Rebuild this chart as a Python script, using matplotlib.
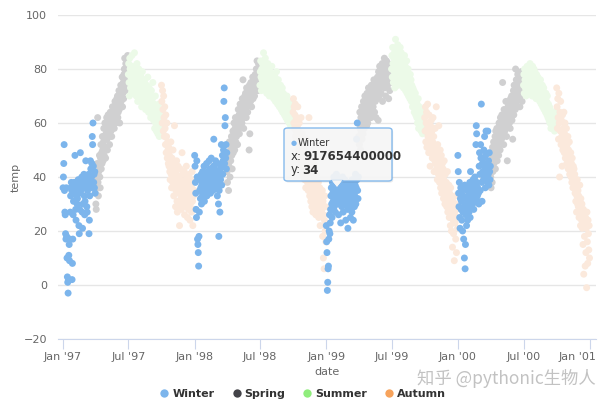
import pandas as pd
import matplotlib
matplotlib.use("Agg")
import matplotlib.pyplot as plt
import matplotlib.dates as mdates
import matplotlib.transforms as mtransforms
from matplotlib.patches import FancyBboxPatch, Polygon
from matplotlib.lines import Line2D

# daily temperatures, one list per season and year
winter_1997 = [36, 40, 45, 52, 35, 27, 26, 19, 17, 36,
               18, 10, 3, 1, -3, 2, 11, 15, 9, 17,
               27, 33, 36, 38, 35, 2, 8, 17, 26, 31,
               36, 38, 34, 48, 37, 28, 24, 33, 36, 30,
               32, 37, 39, 36, 22, 19, 28, 34, 49, 38,
               35, 37, 40, 27, 21, 30, 36, 39, 41, 33,
               26, 31, 38, 46, 40, 36, 29, 27, 35, 37,
               39, 41, 19, 24, 33, 38, 46, 43, 36, 40,
               45, 55, 52, 60, 44, 38, 41, 36, 42, 34]
spring_1997 = [34, 30, 28, 36, 40, 45, 62, 38, 33, 42,
               44, 48, 40, 36, 47, 52, 43, 49, 45, 55,
               50, 46, 53, 58, 48, 55, 60, 51, 47, 56,
               58, 62, 54, 50, 59, 63, 57, 61, 55, 52,
               60, 64, 58, 57, 62, 55, 60, 66, 59, 63,
               61, 65, 58, 62, 68, 64, 60, 67, 63, 69,
               66, 70, 62, 64, 68, 72, 65, 60, 67, 71,
               74, 68, 70, 73, 77, 66, 71, 75, 69, 78,
               80, 84, 76, 72, 82, 79, 74, 77, 83, 85, 78]
summer_1997 = [78, 82, 75, 70, 84, 80, 73, 77, 71, 79,
               85, 81, 76, 72, 78, 74, 80, 86, 77, 73,
               75, 79, 70, 74, 82, 77, 68, 72, 76, 80,
               71, 75, 78, 69, 73, 77, 70, 66, 74, 79,
               72, 68, 75, 71, 67, 73, 76, 70, 65, 72,
               69, 74, 66, 71, 77, 68, 64, 70, 73, 67,
               70, 65, 62, 68, 72, 66, 63, 69, 75, 64,
               61, 67, 63, 58, 66, 70, 60, 64, 57, 62,
               59, 65, 56, 61, 67, 58, 55, 63, 60, 57, 62, 58]
autumn_1997 = [74, 68, 60, 72, 65, 57, 70, 62, 55, 66,
               58, 52, 63, 49, 55, 60, 47, 53, 50, 45,
               51, 44, 48, 42, 39, 46, 53, 41, 36, 47,
               43, 38, 50, 45, 33, 40, 59, 37, 42, 29,
               35, 41, 46, 31, 27, 38, 44, 34, 40, 30,
               22, 36, 43, 39, 32, 28, 37, 49, 41, 33,
               38, 30, 35, 42, 26, 31, 39, 34, 29, 44,
               36, 32, 25, 40, 37, 28, 33, 41, 35, 24,
               30, 38, 34, 27, 36, 42, 31, 22, 39, 33, 28, 35]

winter_1998 = [48, 44, 38, 34, 28, 25, 46, 40, 17, 15,
               12, 7, 18, 27, 35, 39, 32, 36, 41, 30,
               37, 33, 42, 38, 35, 40, 44, 31, 36, 39,
               34, 41, 37, 45, 33, 38, 42, 36, 40, 35,
               46, 39, 43, 37, 34, 41, 47, 38, 36, 42,
               40, 35, 44, 54, 38, 43, 37, 41, 46, 39,
               36, 42, 45, 33, 40, 38, 30, 18, 35, 41,
               27, 43, 39, 45, 52, 37, 44, 48, 41, 46,
               50, 68, 73, 45, 59, 62, 47, 52, 43, 49]
spring_1998 = [42, 38, 45, 49, 35, 44, 53, 47, 40, 50,
               46, 52, 55, 48, 43, 51, 57, 49, 54, 60,
               56, 50, 58, 62, 53, 59, 55, 61, 57, 52,
               60, 65, 58, 63, 56, 61, 67, 59, 64, 62,
               66, 60, 69, 63, 76, 64, 58, 67, 62, 70,
               65, 71, 68, 62, 73, 66, 70, 64, 69, 72,
               67, 50, 74, 56, 70, 68, 75, 72, 66, 71,
               73, 77, 69, 74, 71, 76, 70, 75, 78, 72,
               75, 80, 74, 83, 77, 72, 79, 82, 76, 81, 78]
summer_1998 = [74, 79, 83, 77, 72, 80, 76, 82, 75, 78,
               86, 81, 76, 73, 79, 84, 77, 74, 80, 71,
               78, 75, 82, 73, 77, 80, 70, 76, 79, 74,
               72, 77, 75, 81, 70, 74, 78, 73, 69, 76,
               73, 71, 77, 68, 74, 72, 79, 70, 75, 67,
               71, 76, 69, 73, 66, 72, 70, 74, 68, 65,
               70, 67, 73, 64, 69, 71, 66, 68, 63, 70,
               65, 68, 62, 67, 64, 70, 61, 66, 63, 68,
               64, 60, 66, 62, 65, 59, 63, 67, 61, 64, 60, 62]
autumn_1998 = [64, 69, 60, 66, 58, 63, 67, 55, 61, 57,
               62, 54, 59, 66, 52, 57, 50, 60, 55, 48,
               53, 46, 62, 50, 44, 56, 49, 41, 52, 47,
               43, 51, 39, 45, 48, 36, 42, 54, 40, 46,
               38, 44, 35, 41, 62, 37, 33, 43, 39, 31,
               36, 42, 29, 34, 40, 27, 38, 45, 32, 37,
               30, 35, 39, 26, 33, 41, 28, 36, 31, 34,
               38, 25, 32, 29, 36, 22, 34, 30, 27, 33,
               28, 35, 18, 31, 10, 26, 6, 24, 33, 20, 29, 16]

winter_1999 = [22, 16, 12, -2, 1, 6, 7, 17, 20, 26,
               19, 23, 28, 33, 36, 30, 25, 38, 34, 31,
               35, 40, 29, 37, 33, 27, 39, 36, 41, 34,
               32, 38, 35, 30, 26, 36, 39, 33, 37, 31,
               23, 35, 38, 29, 34, 40, 36, 27, 32, 37,
               33, 39, 35, 30, 24, 36, 38, 31, 34, 28,
               21, 35, 32, 38, 29, 36, 33, 25, 37, 30,
               34, 27, 39, 36, 31, 24, 38, 35, 29, 33,
               37, 41, 30, 36, 54, 39, 60, 35, 32, 40]
spring_1999 = [55, 60, 52, 64, 58, 50, 62, 57, 66, 54,
               59, 63, 56, 68, 61, 58, 65, 70, 60, 64,
               62, 67, 59, 71, 64, 60, 68, 73, 63, 66,
               70, 65, 72, 68, 62, 74, 67, 71, 64, 69,
               66, 73, 76, 70, 64, 72, 68, 75, 62, 71,
               74, 69, 77, 72, 61, 79, 75, 70, 81, 73,
               76, 81, 71, 78, 74, 82, 68, 77, 80, 75,
               79, 84, 73, 77, 81, 70, 78, 83, 76, 80,
               74, 78, 82, 69, 77, 80, 72, 79, 75, 81, 77]
summer_1999 = [80, 85, 77, 88, 82, 75, 84, 79, 86, 73,
               81, 91, 78, 84, 87, 76, 82, 89, 74, 80,
               85, 79, 83, 76, 88, 81, 74, 86, 78, 82,
               77, 84, 80, 73, 82, 78, 85, 75, 81, 72,
               79, 76, 83, 71, 78, 74, 80, 70, 77, 73,
               75, 69, 78, 72, 76, 68, 74, 71, 66, 73,
               70, 67, 72, 64, 69, 66, 71, 63, 68, 65,
               62, 67, 60, 65, 69, 58, 63, 66, 61, 64,
               59, 63, 57, 62, 60, 65, 56, 61, 58, 63, 60, 57]
autumn_1999 = [62, 57, 66, 53, 60, 64, 51, 58, 67, 55,
               60, 49, 63, 56, 52, 44, 59, 54, 61, 50,
               57, 47, 53, 62, 48, 55, 42, 51, 46, 58,
               45, 50, 66, 43, 48, 39, 52, 46, 41, 59,
               47, 38, 44, 50, 36, 42, 48, 34, 40, 45,
               37, 43, 32, 39, 46, 35, 30, 41, 36, 33,
               38, 29, 35, 42, 27, 33, 31, 37, 25, 34,
               30, 22, 36, 28, 20, 32, 26, 14, 31, 24,
               19, 29, 9, 27, 23, 33, 17, 28, 12, 25, 30, 21]

winter_2000 = [48, 42, 34, 29, 38, 25, 21, 32, 36, 28,
               31, 24, 35, 20, 27, 33, 17, 29, 10, 37,
               6, 15, 26, 32, 22, 30, 35, 24, 28, 33,
               36, 27, 31, 38, 25, 42, 34, 29, 37, 32,
               35, 30, 39, 33, 28, 36, 31, 40, 34, 37,
               52, 59, 56, 38, 33, 36, 31, 34, 30, 44,
               49, 41, 35, 52, 47, 67, 38, 31, 45, 42,
               47, 39, 50, 44, 55, 40, 36, 48, 57, 43,
               40, 45, 38, 57, 41, 46, 37, 49, 42, 39, 44]
spring_2000 = [40, 36, 44, 48, 38, 51, 42, 46, 53, 45,
               50, 47, 55, 43, 57, 49, 52, 58, 46, 54,
               51, 56, 48, 60, 53, 57, 50, 62, 55, 59,
               54, 63, 58, 75, 56, 61, 52, 65, 59, 57,
               62, 58, 68, 60, 55, 64, 46, 61, 66, 59,
               63, 67, 60, 65, 58, 69, 62, 64, 70, 61,
               66, 54, 68, 72, 63, 74, 67, 70, 65, 80,
               71, 76, 68, 73, 66, 78, 70, 74, 69, 77,
               73, 66, 75, 70, 79, 72, 76, 68, 74, 78, 71]
summer_2000 = [74, 78, 71, 80, 76, 73, 79, 70, 77, 75,
               81, 76, 72, 78, 74, 80, 77, 71, 82, 75,
               78, 73, 79, 76, 70, 81, 74, 77, 72, 80,
               75, 79, 72, 77, 74, 69, 78, 73, 76, 71,
               77, 72, 75, 70, 74, 68, 73, 76, 71, 67,
               72, 69, 74, 66, 71, 68, 73, 65, 70, 67,
               69, 64, 71, 66, 68, 63, 70, 65, 62, 67,
               64, 61, 66, 60, 65, 62, 58, 64, 61, 63,
               60, 63, 58, 62, 59, 64, 57, 61, 60, 58, 62, 59]
autumn_2000 = [73, 66, 58, 69, 62, 54, 71, 60, 40, 64,
               57, 68, 52, 61, 55, 44, 63, 50, 58, 53,
               64, 49, 56, 60, 47, 54, 51, 58, 45, 52,
               48, 55, 43, 50, 46, 53, 41, 47, 44, 49,
               40, 45, 38, 47, 42, 36, 44, 39, 43, 37,
               41, 34, 38, 31, 36, 27, 33, 39, 30, 35,
               29, 33, 25, 31, 37, 27, 22, 32, 28, 24,
               30, 21, 26, 15, 28, 4, 23, 18, 27, 7,
               25, 12, 21, -1, 27, 16, 8, 24, 19, 13, 22, 10]

years = [1997, 1998, 1999, 2000]
seasons = ["Winter", "Spring", "Summer", "Autumn"]
season_start = ["01-01", "04-01", "07-01", "10-01"]
season_data = {
    "Winter": [winter_1997, winter_1998, winter_1999, winter_2000],
    "Spring": [spring_1997, spring_1998, spring_1999, spring_2000],
    "Summer": [summer_1997, summer_1998, summer_1999, summer_2000],
    "Autumn": [autumn_1997, autumn_1998, autumn_1999, autumn_2000],
}
# legend colours (highcharts defaults) and the faded look of inactive series
legend_colors = {"Winter": "#7cb5ec", "Spring": "#434348", "Summer": "#90ed7d", "Autumn": "#f7a35c"}
plot_colors = {"Winter": "#7cb5ec", "Spring": "#d0d0d1", "Summer": "#ecfae8", "Autumn": "#fbe9dc"}

tooltip_ms = "917654400000"
tooltip_y = 34

fig = plt.figure(figsize=(6, 4.05), dpi=100)
ax = fig.add_axes([58 / 600, 1 - 339 / 405, 538 / 600, 324 / 405])

draw_order = ["Spring", "Summer", "Autumn", "Winter"]
for z, name in enumerate(draw_order):
    i = seasons.index(name)
    for year, vals in zip(years, season_data[name]):
        dates = pd.date_range(f"{year}-{season_start[i]}", periods=len(vals), freq="D")
        ax.scatter(dates, vals, s=25, color=plot_colors[name], edgecolors="none", zorder=2 + z)

ax.set_ylim(-20, 100)
ax.set_yticks(range(-20, 101, 20))
ax.set_xlim(pd.Timestamp("1996-12-18"), pd.Timestamp("2001-01-18"))
ax.xaxis.set_major_locator(mdates.MonthLocator(bymonth=[1, 7]))
ax.xaxis.set_major_formatter(mdates.DateFormatter("%b '%y"))

for s in ["top", "right", "left"]:
    ax.spines[s].set_visible(False)
ax.spines["bottom"].set_color("#ccd6eb")
ax.grid(axis="y", color="#e6e6e6", linewidth=1)
ax.set_axisbelow(True)
ax.tick_params(axis="y", length=0, pad=8, labelsize=8, labelcolor="#666666")
ax.tick_params(axis="x", length=7, color="#ccd6eb", pad=2, labelsize=8, labelcolor="#666666")
ax.set_xlabel("date", fontsize=8, color="#666666", labelpad=4)
ax.set_ylabel("temp", fontsize=8, color="#666666", labelpad=2)

# last date label is pushed inside the chart, like highcharts does
fig.canvas.draw()
last = ax.get_xticklabels()[-1]
last.set_horizontalalignment("right")
last.set_transform(last.get_transform() + mtransforms.ScaledTranslation(5 / 72, 0, fig.dpi_scale_trans))

# legend
handles = [Line2D([], [], marker="o", linestyle="none", markersize=6,
                  markerfacecolor=legend_colors[n], markeredgecolor="none") for n in seasons]
leg = fig.legend(handles, seasons, loc="center", bbox_to_anchor=(0.505, 1 - 394 / 405), ncol=4,
                 frameon=False, handletextpad=0.3, columnspacing=1.6, handlelength=0.8,
                 prop={"weight": "bold", "size": 8})
for t in leg.get_texts():
    t.set_color("#333333")

# tooltip
x0, x1, y0, y1 = 284 / 600, 392 / 600, 1 - 181 / 405, 1 - 128 / 405
shadow = FancyBboxPatch((x0 + 0.002, y0 - 0.004), x1 - x0, y1 - y0, transform=fig.transFigure,
                        boxstyle="round,pad=0,rounding_size=0.006", facecolor="#000000",
                        alpha=0.08, edgecolor="none", zorder=20)
box = FancyBboxPatch((x0, y0), x1 - x0, y1 - y0, transform=fig.transFigure,
                     boxstyle="round,pad=0,rounding_size=0.006", facecolor="#f7f7f7",
                     alpha=0.92, edgecolor="#7cb5ec", linewidth=1, zorder=21)
fig.patches.extend([shadow, box])
pointer = Polygon([[331 / 600, y0 + 0.001], [343 / 600, y0 + 0.001], [337 / 600, y0 - 7 / 405]],
                  closed=True, transform=fig.transFigure, facecolor="#f7f7f7",
                  edgecolor="#7cb5ec", linewidth=1, zorder=22)
fig.patches.append(pointer)
fig.patches.append(Polygon([[331.8 / 600, y0 + 0.002], [342.2 / 600, y0 + 0.002], [337 / 600, y0 - 5.5 / 405]],
                           closed=True, transform=fig.transFigure, facecolor="#f7f7f7",
                           edgecolor="none", zorder=23))
fig.text(291 / 600, 1 - 143 / 405, "\u25cf", color="#7cb5ec", fontsize=5, va="center", zorder=24)
fig.text(298 / 600, 1 - 143 / 405, "Winter", color="#333333", fontsize=7, va="center", zorder=24)
fig.text(291 / 600, 1 - 156 / 405, "x:", color="#333333", fontsize=8.5, va="center", zorder=24)
fig.text(303 / 600, 1 - 156 / 405, tooltip_ms, color="#333333", fontsize=8.5,
         fontweight="bold", va="center", zorder=24)
fig.text(291 / 600, 1 - 170 / 405, "y:", color="#333333", fontsize=8.5, va="center", zorder=24)
fig.text(302 / 600, 1 - 170 / 405, str(tooltip_y), color="#333333", fontsize=8.5,
         fontweight="bold", va="center", zorder=24)

# watermark
fig.text(596 / 600, 1 - 379 / 405, "知乎 @pythonic生物人", color="#bcbcbc", fontsize=12.5,
         ha="right", va="center", family=["Noto Sans CJK SC", "DejaVu Sans"], alpha=0.9)

fig.savefig("out.png", dpi=100)
